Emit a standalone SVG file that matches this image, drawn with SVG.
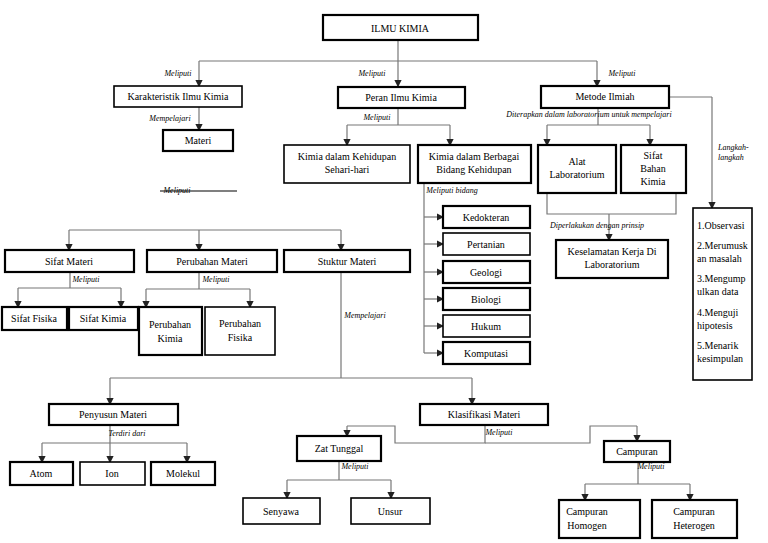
<svg xmlns="http://www.w3.org/2000/svg" width="768" height="543" viewBox="0 0 768 543">
<defs><marker id="a" viewBox="0 0 6 6" refX="5" refY="3" markerWidth="6" markerHeight="6" orient="auto"><path d="M0,0L6,3L0,6z" fill="#222"/></marker></defs>
<style>
rect{fill:#fff;stroke:#000;stroke-width:2.2}
text{font-family:"Liberation Serif","DejaVu Serif","Times New Roman",serif;font-size:10px;fill:#000;text-anchor:middle}
.l{font-size:8px;font-style:italic;fill:#000}
#c path{fill:none;stroke:#777;stroke-width:1.2}
.arr{marker-end:url(#a)}
</style>
<rect width="768" height="543" style="fill:#fff;stroke:none"/>
<g id="c">
<path class="arr" d="M398,40V86"/>
<path d="M199,61H597"/>
<path class="arr" d="M199,61V86"/>
<path class="arr" d="M597,61V86"/>
<path class="arr" d="M199,107V130"/>
<path d="M398,108V125M347,125H450"/>
<path class="arr" d="M347,125V145"/>
<path class="arr" d="M450,125V145"/>
<path d="M598,108V125M547,125H650"/>
<path class="arr" d="M547,125V145"/>
<path class="arr" d="M650,125V145"/>
<path d="M669,97H712"/>
<path class="arr" d="M712,97V208"/>
<path d="M547,193V214H676V193"/>
<path class="arr" d="M609,214V240"/>
<path d="M424,183V353"/>
<path class="arr" d="M424,217H443"/>
<path class="arr" d="M424,244H443"/>
<path class="arr" d="M424,272H443"/>
<path class="arr" d="M424,299H443"/>
<path class="arr" d="M424,326H443"/>
<path class="arr" d="M424,353H443"/>
<path d="M160,191H237" style="stroke:#000"/>
<path d="M69,230H341"/>
<path class="arr" d="M69,230V250"/>
<path class="arr" d="M199,230V250"/>
<path class="arr" d="M341,230V250"/>
<path d="M70,272V288M18,288H121"/>
<path class="arr" d="M18,288V307"/>
<path class="arr" d="M121,288V307"/>
<path d="M199,272V289M146,289H250"/>
<path class="arr" d="M146,289V307"/>
<path class="arr" d="M250,289V307"/>
<path d="M341,272V378M110,378H472"/>
<path class="arr" d="M110,378V404"/>
<path class="arr" d="M472,378V404"/>
<path d="M110,425V443M42,443H187"/>
<path class="arr" d="M42,443V462"/>
<path class="arr" d="M110,443V462"/>
<path class="arr" d="M187,443V462"/>
<path d="M485,425V443H395V426H347"/>
<path class="arr" d="M347,426V436"/>
<path d="M485,443H590V426H637"/>
<path class="arr" d="M637,426V441"/>
<path d="M339,461V480M287,480H391"/>
<path class="arr" d="M287,480V498"/>
<path class="arr" d="M391,480V498"/>
<path d="M638,462V484M585,484H690"/>
<path class="arr" d="M585,484V500"/>
<path class="arr" d="M690,484V500"/>
</g>
<g id="labels">
<text class="l" x="178" y="76">Meliputi</text>
<text class="l" x="372" y="76">Meliputi</text>
<text class="l" x="622" y="76">Meliputi</text>
<text class="l" x="170" y="121">Mempelajari</text>
<text class="l" x="377" y="120">Meliputi</text>
<text class="l" x="589" y="117">Diterapkan dalam laboratorium untuk mempelajari</text>
<text class="l" x="718" y="150" style="text-anchor:start">Langkah-</text>
<text class="l" x="718" y="160" style="text-anchor:start">langkah</text>
<text class="l" x="452" y="193">Meliputi bidang</text>
<text class="l" x="597" y="228">Diperlakukan dengan prinsip</text>
<text class="l" x="177" y="193">Meliputi</text>
<text class="l" x="86" y="282">Meliputi</text>
<text class="l" x="216" y="282">Meliputi</text>
<text class="l" x="365" y="318">Mempelajari</text>
<text class="l" x="127" y="436">Terdiri dari</text>
<text class="l" x="499" y="435">Meliputi</text>
<text class="l" x="355" y="469">Meliputi</text>
<text class="l" x="651" y="469">Meliputi</text>
</g>
<g id="n1"><rect x="323" y="15" width="155" height="25"/><text x="400" y="32">ILMU KIMIA</text></g>
<g id="n2"><rect x="114" y="86" width="128" height="21" style="stroke-width:1.6"/><text x="178" y="100">Karakteristik Ilmu Kimia</text></g>
<g id="n3"><rect x="163" y="130" width="70" height="21"/><text x="198" y="144">Materi</text></g>
<g id="n4"><rect x="338" y="87" width="127" height="21"/><text x="401" y="101">Peran Ilmu Kimia</text></g>
<g id="n5"><rect x="284" y="145" width="126" height="38" style="stroke-width:1.6"/><text x="347" y="160">Kimia dalam Kehidupan</text><text x="347" y="173">Sehari-hari</text></g>
<g id="n6"><rect x="418" y="145" width="113" height="38"/><text x="474" y="160">Kimia dalam Berbagai</text><text x="474" y="173">Bidang Kehidupan</text></g>
<g id="n7"><rect x="541" y="86" width="128" height="22"/><text x="605" y="100">Metode Ilmiah</text></g>
<g id="n8"><rect x="538" y="145" width="78" height="48"/><text x="577" y="165">Alat</text><text x="577" y="178">Laboratorium</text></g>
<g id="n9"><rect x="621" y="145" width="65" height="48"/><text x="653" y="159">Sifat</text><text x="653" y="172">Bahan</text><text x="653" y="185">Kimia</text></g>
<g id="n10"><rect x="556" y="240" width="112" height="38"/><text x="612" y="255">Keselamatan Kerja Di</text><text x="612" y="268">Laboratorium</text></g>
<g id="n11"><rect x="693" y="208" width="59" height="172" style="stroke-width:1.6"/>
<text x="697" y="229" style="text-anchor:start">1.Observasi</text><text x="697" y="249" style="text-anchor:start">2.Merumusk</text><text x="697" y="262" style="text-anchor:start">an masalah</text><text x="697" y="282" style="text-anchor:start">3.Mengump</text><text x="697" y="295" style="text-anchor:start">ulkan data</text><text x="697" y="316" style="text-anchor:start">4.Menguji</text><text x="697" y="329" style="text-anchor:start">hipotesis</text><text x="697" y="349" style="text-anchor:start">5.Menarik</text><text x="697" y="362" style="text-anchor:start">kesimpulan</text></g>
<g id="n12"><rect x="443" y="206" width="87" height="22"/><text x="486" y="221">Kedokteran</text></g>
<g id="n13"><rect x="443" y="233" width="87" height="22" style="stroke-width:1.6"/><text x="486" y="248">Pertanian</text></g>
<g id="n14"><rect x="443" y="261" width="87" height="22"/><text x="486" y="276">Geologi</text></g>
<g id="n15"><rect x="443" y="288" width="87" height="22"/><text x="486" y="303">Biologi</text></g>
<g id="n16"><rect x="443" y="315" width="87" height="22" style="stroke-width:1.6"/><text x="486" y="330">Hukum</text></g>
<g id="n17"><rect x="443" y="342" width="87" height="22"/><text x="486" y="357">Komputasi</text></g>
<g id="n18"><rect x="5" y="250" width="129" height="22"/><text x="69" y="265">Sifat Materi</text></g>
<g id="n19"><rect x="147" y="250" width="130" height="22"/><text x="212" y="265">Perubahan Materi</text></g>
<g id="n20"><rect x="284" y="250" width="126" height="22"/><text x="347" y="265">Stuktur Materi</text></g>
<g id="n21"><rect x="2" y="307" width="65" height="23"/><text x="34" y="322">Sifat Fisika</text></g>
<g id="n22"><rect x="69" y="307" width="69" height="23"/><text x="103" y="322">Sifat Kimia</text></g>
<g id="n23"><rect x="139" y="307" width="63" height="48"/><text x="170" y="328">Perubahan</text><text x="170" y="342">Kimia</text></g>
<g id="n24"><rect x="205" y="307" width="70" height="48" style="stroke-width:1.6"/><text x="240" y="327">Perubahan</text><text x="240" y="341">Fisika</text></g>
<g id="n25"><rect x="49" y="404" width="129" height="21"/><text x="113" y="418">Penyusun Materi</text></g>
<g id="n26"><rect x="420" y="404" width="128" height="21"/><text x="484" y="418">Klasifikasi Materi</text></g>
<g id="n27"><rect x="10" y="462" width="63" height="23"/><text x="41" y="477">Atom</text></g>
<g id="n28"><rect x="80" y="462" width="65" height="23" style="stroke-width:1.6"/><text x="112" y="477">Ion</text></g>
<g id="n29"><rect x="151" y="462" width="64" height="23"/><text x="183" y="477">Molekul</text></g>
<g id="n30"><rect x="297" y="436" width="84" height="25"/><text x="339" y="452">Zat Tunggal</text></g>
<g id="n31"><rect x="604" y="441" width="66" height="21"/><text x="637" y="455">Campuran</text></g>
<g id="n32"><rect x="243" y="498" width="77" height="26" style="stroke-width:1.6"/><text x="281" y="515">Senyawa</text></g>
<g id="n33"><rect x="351" y="498" width="79" height="26" style="stroke-width:1.6"/><text x="390" y="515">Unsur</text></g>
<g id="n34"><rect x="559" y="500" width="81" height="38"/><text x="587" y="515">Campuran</text><text x="587" y="529">Homogen</text></g>
<g id="n35"><rect x="652" y="500" width="85" height="38"/><text x="694" y="515">Campuran</text><text x="694" y="529">Heterogen</text></g>
</svg>
